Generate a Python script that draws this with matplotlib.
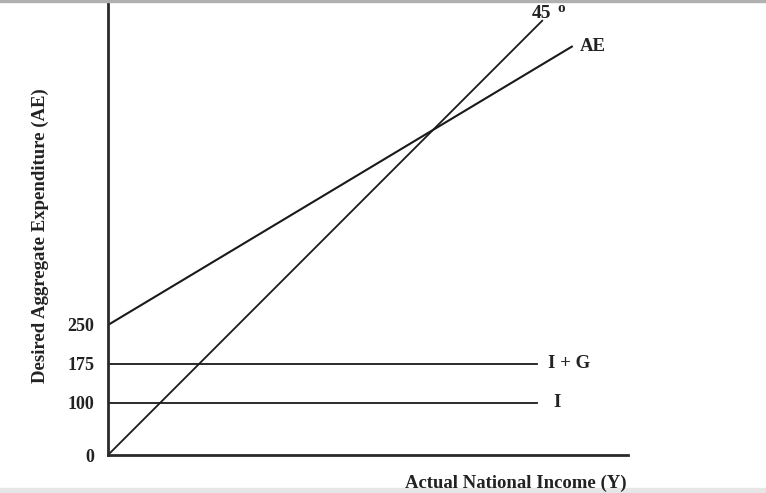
import matplotlib
matplotlib.use("Agg")
import matplotlib.pyplot as plt
import numpy as np

plt.rcParams['font.family'] = ['Liberation Serif', 'DejaVu Serif']

# Data (model units)
autonomous_ae = 250
mpc_slope = 0.6
investment = 100
inv_plus_gov = 175
y_ticks = [0, 100, 175, 250]
y_ticklabels = ["0", "100", "175", "250"]
line45_x = [0, 835]
ae_x = [0, 892]
flat_x = [0, 825]

W, H = 766, 493
fig = plt.figure(figsize=(W / 100, H / 100), dpi=100)
fig.patch.set_facecolor("white")
# gray border strips
fig.patches.append(plt.Rectangle((0, 1 - 2 / H), 1, 2 / H, transform=fig.transFigure,
                                 color="#b0b0b0", zorder=0))
fig.patches.append(plt.Rectangle((0, 0), 1, 5 / H, transform=fig.transFigure,
                                 color="#e6e6e6", zorder=0))

left, bottom = 108 / W, (H - 455) / H
width, height = (628 - 108) / W, (455 - 2) / H
ax = fig.add_axes([left, bottom, width, height])
ax.set_xlim(0, 1000)
ax.set_ylim(0, 871)

col = "#1a1a1a"
ax.plot(line45_x, line45_x, color=col, lw=1.3)
ae_y = [autonomous_ae + mpc_slope * x for x in ae_x]
ax.plot(ae_x, ae_y, color=col, lw=1.5)
ax.plot(flat_x, [inv_plus_gov] * 2, color=col, lw=1.3)
ax.plot(flat_x, [investment] * 2, color=col, lw=1.3)

for s in ["top", "right"]:
    ax.spines[s].set_visible(False)
for s in ["left", "bottom"]:
    ax.spines[s].set_linewidth(2)
    ax.spines[s].set_color("#2a2a2a")

ax.set_xticks([])
ax.set_yticks(y_ticks)
ax.set_yticklabels(y_ticklabels, fontsize=13, fontweight="bold", color="#222222")
ax.tick_params(axis="y", length=0, pad=10)

tc = "#222222"
# line labels
ax.text(flat_x[1] + 22, inv_plus_gov, "I + G", fontsize=13.5, fontweight="bold",
        va="center", ha="left", color=tc)
ax.text(flat_x[1] + 32, investment, "I", fontsize=13.5, fontweight="bold",
        va="center", ha="left", color=tc)
ax.text(ae_x[1] + 16, ae_y[1], "AE", fontsize=13.5, fontweight="bold",
        va="center", ha="left", color=tc)
fig.text(541 / W, 1 - 13 / H, "45", fontsize=14, fontweight="bold",
         va="center", ha="center", color=tc)
fig.text(561 / W, 1 - 8 / H, "o", fontsize=11, fontweight="bold",
         va="center", ha="center", color=tc)

fig.text(516 / W, 1 - 483 / H, "Actual National Income (Y)", fontsize=13.5,
         fontweight="bold", ha="center", va="center", color=tc)
fig.text(40 / W, 1 - 236 / H, "Desired Aggregate Expenditure (AE)", fontsize=13.5,
         fontweight="bold", ha="center", va="center", rotation=90, color=tc)

fig.savefig("out.png", dpi=100)
